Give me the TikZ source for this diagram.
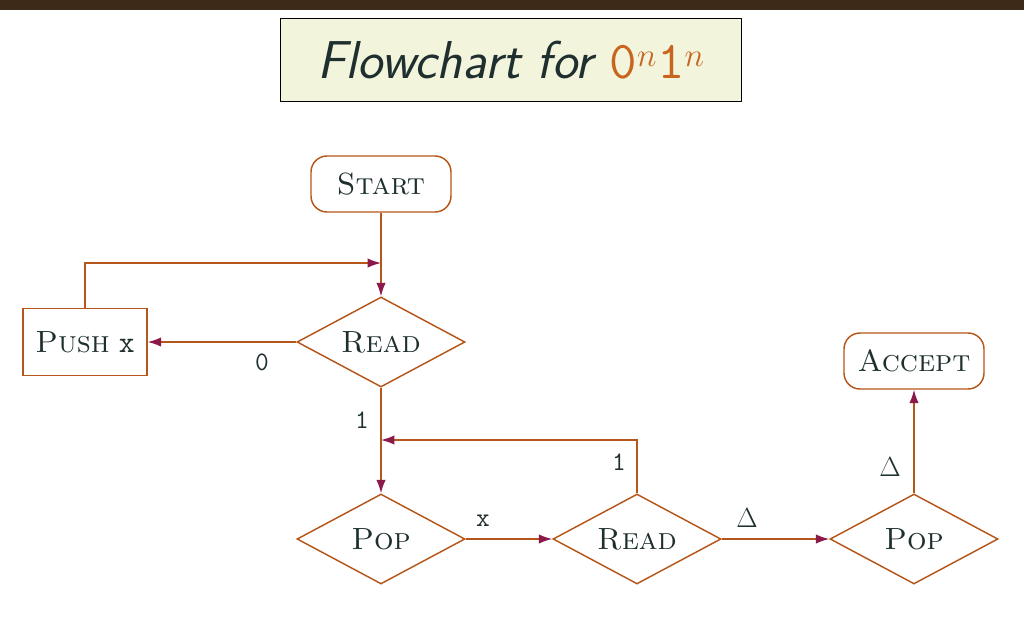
\documentclass[tikz,border=0pt]{standalone}
\usetikzlibrary{arrows.meta,shapes.geometric}
\definecolor{edge}{HTML}{B5561A}
\definecolor{tip}{HTML}{8B1A4A}
\definecolor{txt}{HTML}{1F2F2F}
\definecolor{bar}{HTML}{3E2A18}
\definecolor{titlebg}{HTML}{F2F4DC}
\definecolor{orng}{HTML}{C8641E}
\tikzset{
  base/.style={draw=edge,line width=1.1pt,text=txt,font=\fontsize{23}{27}\selectfont},
  term/.style={base,rounded corners=12pt,minimum width=105pt,minimum height=42pt},
  dec/.style={base,diamond,aspect=1.87,minimum width=126pt,minimum height=67.5pt,inner sep=0pt},
  proc/.style={base,minimum width=93pt,minimum height=50pt},
  conn/.style={draw=edge,line width=1.1pt,-{Latex[length=10pt,width=7pt,color=tip,fill=tip]}},
  lbl/.style={text=txt,font=\fontsize{20}{24}\selectfont}
}
\begin{document}
\begin{tikzpicture}[x=0.75pt,y=-0.75pt]
\useasboundingbox (0,0) rectangle (1024,619);
\fill[bar] (0,0) rectangle (1024,10);
\node[draw=black,line width=1.1pt,fill=titlebg,minimum width=346pt,minimum height=62pt,font=\fontsize{40}{46}\selectfont\sffamily\itshape,text=txt] (title) at (511,60)
  {Flowchart for \textcolor{orng}{\upshape\ttfamily 0$^n$1$^n$}};
\node[term] (start) at (381,184) {\textsc{Start}};
\node[dec] (read1) at (381,342) {\textsc{Read}};
\node[proc] (push) at (85,342) {\textsc{Push} \texttt{x}};
\node[dec] (pop1) at (381,539) {\textsc{Pop}};
\node[dec] (read2) at (637,539) {\textsc{Read}};
\node[dec] (pop2) at (914,539) {\textsc{Pop}};
\node[term] (accept) at (914,361) {\textsc{Accept}};
\coordinate (j1) at (381,263);
\coordinate (j2) at (381,440);
\draw[conn] (start) -- (read1);
\draw[conn] (push.north) |- (j1);
\draw[conn] (read1.west) -- (push.east);
\draw[conn] (read1.south) -- (pop1.north);
\draw[conn] (read2.north) |- (j2);
\draw[conn] (pop1.east) -- (read2.west);
\draw[conn] (read2.east) -- (pop2.west);
\draw[conn] (pop2.north) -- (accept.south);
\node[lbl] (l0) at (262,362) {\texttt{0}};
\node[lbl] (l1) at (362,420) {\texttt{1}};
\node[lbl] (l1b) at (619,462) {\texttt{1}};
\node[lbl] (lx) at (483,521) {\texttt{x}};
\node[lbl] (ld1) at (747,518) {$\Delta$};
\node[lbl] (ld2) at (890,467) {$\Delta$};
\end{tikzpicture}
\end{document}
